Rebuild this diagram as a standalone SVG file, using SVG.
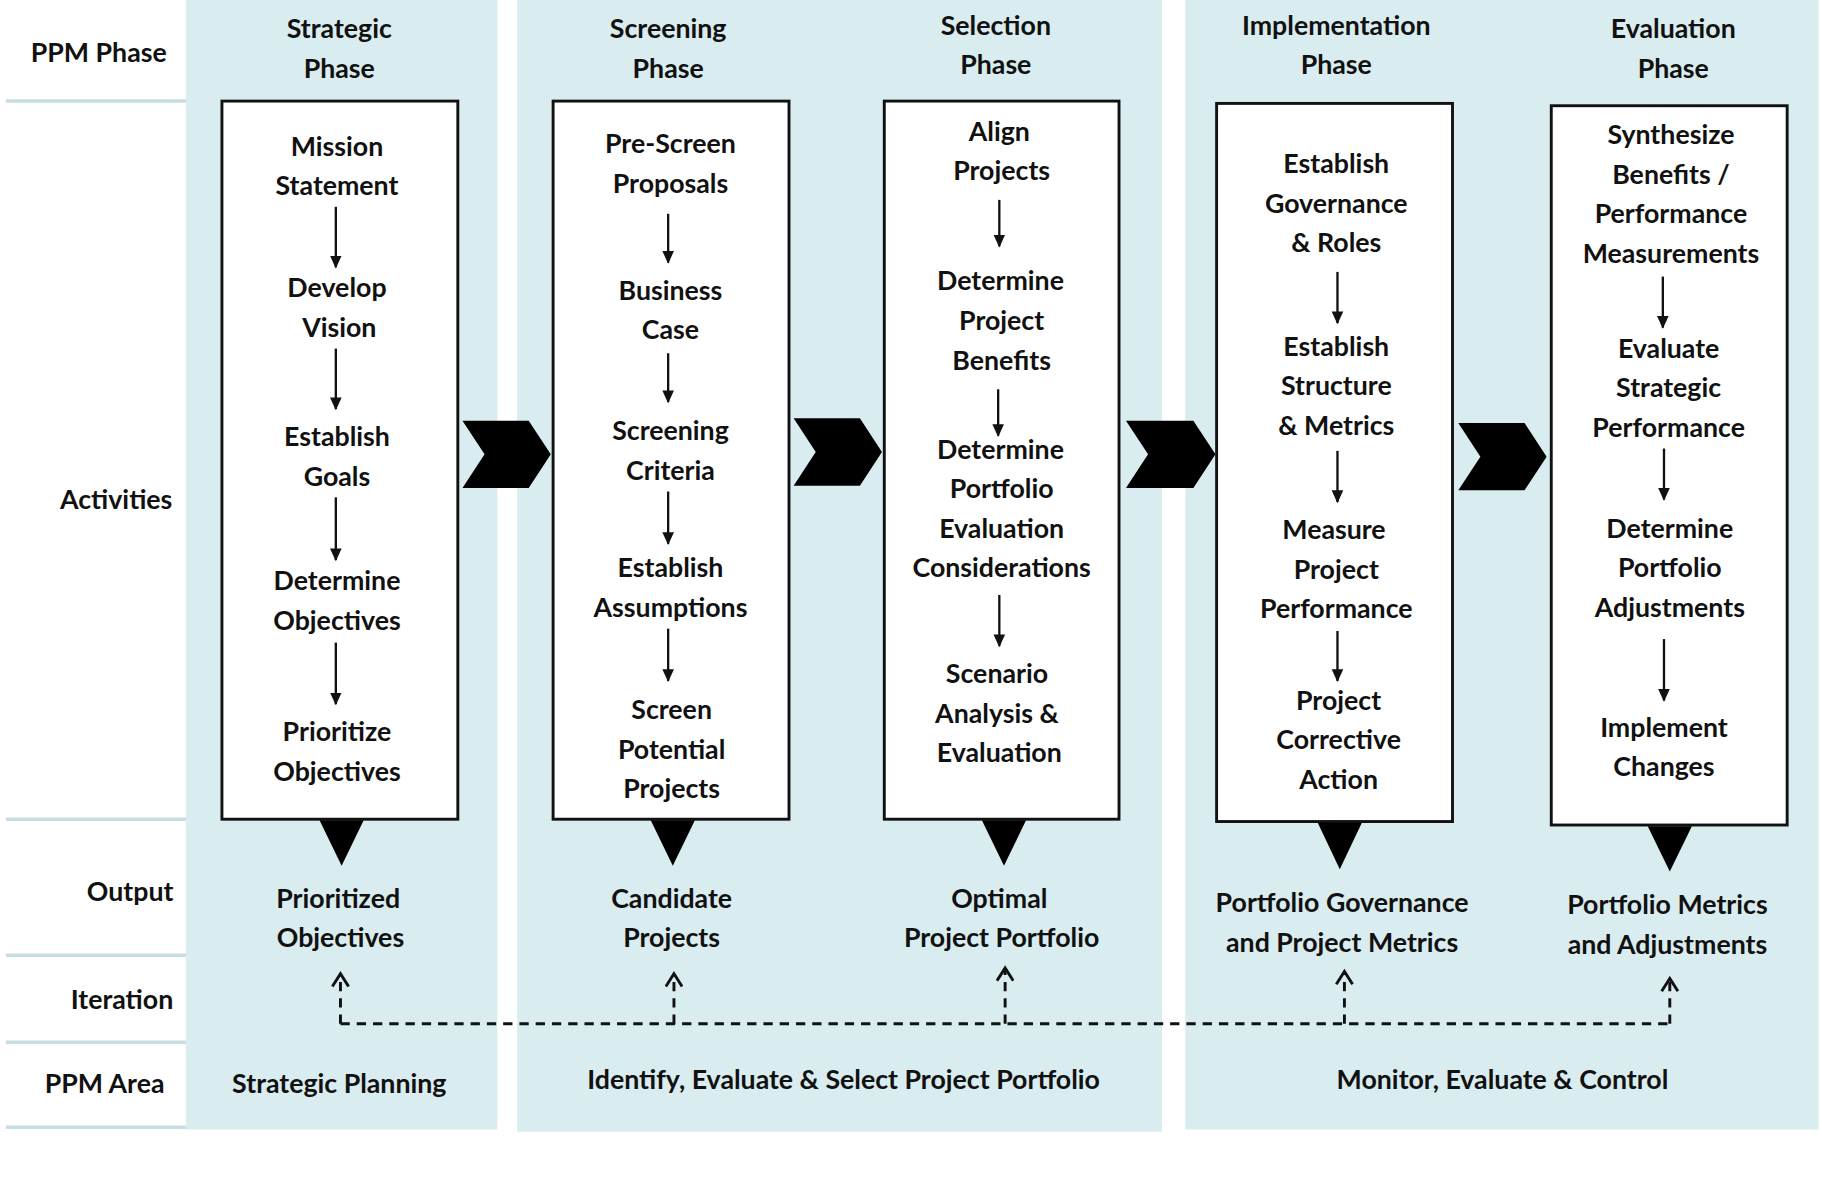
<svg xmlns="http://www.w3.org/2000/svg" width="1822" height="1199" viewBox="0 0 1822 1199">
<style>
text{font-family:Lato,"Open Sans","Liberation Sans",sans-serif;font-weight:bold;font-size:23px;fill:#111;text-anchor:middle}
.panel{fill:#d9ecef}
.sep{stroke:#c8dde2;stroke-width:3}
.box{fill:#fff;stroke:#111;stroke-width:2.5}
.arr{stroke:#111;stroke-width:2;marker-end:url(#ah)}
.dash{stroke:#111;stroke-width:2.5;stroke-dasharray:8 6;fill:none}
.up{stroke:#111;stroke-width:2.5;stroke-dasharray:8 6;marker-end:url(#oh)}
.blk{fill:#000}
</style>
<defs>
<marker id="ah" markerWidth="12" markerHeight="12" refX="10" refY="6" orient="auto" markerUnits="userSpaceOnUse"><path d="M0,1 L11,6 L0,11 Z" fill="#111"/></marker>
<marker id="oh" markerWidth="16" markerHeight="16" refX="13" refY="8" orient="auto" markerUnits="userSpaceOnUse"><path d="M2,1 L13,8 L2,15" fill="none" stroke="#111" stroke-width="2.5"/></marker>
</defs>
<rect width="1822" height="1199" fill="#fff"/>
<g transform="scale(1.162)">
<g id="panels">
<rect class="panel" x="160" y="0" width="268" height="972"/>
<rect class="panel" x="445" y="0" width="555" height="974"/>
<rect class="panel" x="1020" y="0" width="545" height="972"/>
</g>
<g id="rowlabels">
<line class="sep" x1="5" y1="87" x2="160" y2="87"/>
<line class="sep" x1="5" y1="705" x2="160" y2="705"/>
<line class="sep" x1="5" y1="822" x2="160" y2="822"/>
<line class="sep" x1="5" y1="897" x2="160" y2="897"/>
<line class="sep" x1="5" y1="970" x2="160" y2="970"/>
<text x="85" y="53">PPM Phase</text>
<text x="100" y="438">Activities</text>
<text x="112" y="775">Output</text>
<text x="105" y="868">Iteration</text>
<text x="90" y="941">PPM Area</text>
</g>
<g id="phase-titles">
<text x="292" y="33">Strategic</text><text x="292" y="67">Phase</text>
<text x="575" y="33">Screening</text><text x="575" y="67">Phase</text>
<text x="857" y="30">Selection</text><text x="857" y="64">Phase</text>
<text x="1150" y="30">Implementation</text><text x="1150" y="64">Phase</text>
<text x="1440" y="33">Evaluation</text><text x="1440" y="67">Phase</text>
</g>
<g id="strategic">
<rect class="box" x="191" y="87" width="203" height="618"/>
<text x="290" y="134">Mission</text><text x="290" y="168">Statement</text>
<text x="290" y="256">Develop</text><text x="292" y="290">Vision</text>
<text x="290" y="384">Establish</text><text x="290" y="418">Goals</text>
<text x="290" y="508">Determine</text><text x="290" y="542">Objectives</text>
<text x="290" y="638">Prioritize</text><text x="290" y="672">Objectives</text>
</g>
<g id="screening">
<rect class="box" x="476" y="87" width="203" height="618"/>
<text x="577" y="132">Pre-Screen</text><text x="577" y="166">Proposals</text>
<text x="577" y="258">Business</text><text x="577" y="292">Case</text>
<text x="577" y="379">Screening</text><text x="577" y="413">Criteria</text>
<text x="577" y="497">Establish</text><text x="577" y="531">Assumptions</text>
<text x="578" y="619">Screen</text><text x="578" y="653">Potential</text><text x="578" y="687">Projects</text>
</g>
<g id="selection">
<rect class="box" x="761" y="87" width="202" height="618"/>
<text x="860" y="121">Align</text><text x="862" y="155">Projects</text>
<text x="861" y="250">Determine</text><text x="862" y="284">Project</text><text x="862" y="318">Benefits</text>
<text x="861" y="395">Determine</text><text x="862" y="429">Portfolio</text><text x="862" y="463">Evaluation</text><text x="862" y="497">Considerations</text>
<text x="858" y="588">Scenario</text><text x="858" y="622">Analysis &amp;</text><text x="860" y="656">Evaluation</text>
</g>
<g id="implementation">
<rect class="box" x="1047" y="89" width="203" height="618"/>
<text x="1150" y="149">Establish</text><text x="1150" y="183">Governance</text><text x="1150" y="217">&amp; Roles</text>
<text x="1150" y="306">Establish</text><text x="1150" y="340">Structure</text><text x="1150" y="374">&amp; Metrics</text>
<text x="1148" y="464">Measure</text><text x="1150" y="498">Project</text><text x="1150" y="532">Performance</text>
<text x="1152" y="611">Project</text><text x="1152" y="645">Corrective</text><text x="1152" y="679">Action</text>
</g>
<g id="evaluation">
<rect class="box" x="1335" y="91" width="203" height="619"/>
<text x="1438" y="124">Synthesize</text><text x="1438" y="158">Benefits /</text><text x="1438" y="192">Performance</text><text x="1438" y="226">Measurements</text>
<text x="1436" y="308">Evaluate</text><text x="1436" y="342">Strategic</text><text x="1436" y="376">Performance</text>
<text x="1437" y="463">Determine</text><text x="1437" y="497">Portfolio</text><text x="1437" y="531">Adjustments</text>
<text x="1432" y="634">Implement</text><text x="1432" y="668">Changes</text>
</g>
<g id="outputs">
<text x="291" y="781">Prioritized</text><text x="293" y="815">Objectives</text>
<text x="578" y="781">Candidate</text><text x="578" y="815">Projects</text>
<text x="860" y="781">Optimal</text><text x="862" y="815">Project Portfolio</text>
<text x="1155" y="785">Portfolio Governance</text><text x="1155" y="819">and Project Metrics</text>
<text x="1435" y="787">Portfolio Metrics</text><text x="1435" y="821">and Adjustments</text>
</g>
<g id="areas">
<text x="292" y="941">Strategic Planning</text>
<text x="726" y="937">Identify, Evaluate &amp; Select Project Portfolio</text>
<text x="1293" y="937">Monitor, Evaluate &amp; Control</text>
</g>
<g id="connectors">
<line class="arr" x1="289" y1="178" x2="289" y2="230"/>
<line class="arr" x1="289" y1="300" x2="289" y2="352"/>
<line class="arr" x1="289" y1="428" x2="289" y2="482"/>
<line class="arr" x1="289" y1="553" x2="289" y2="606"/>
<line class="arr" x1="575" y1="184" x2="575" y2="226"/>
<line class="arr" x1="575" y1="304" x2="575" y2="346"/>
<line class="arr" x1="575" y1="423" x2="575" y2="468"/>
<line class="arr" x1="575" y1="541" x2="575" y2="586"/>
<line class="arr" x1="860" y1="172" x2="860" y2="212"/>
<line class="arr" x1="859" y1="335" x2="859" y2="375"/>
<line class="arr" x1="860" y1="512" x2="860" y2="556"/>
<line class="arr" x1="1151" y1="234" x2="1151" y2="278"/>
<line class="arr" x1="1151" y1="388" x2="1151" y2="432"/>
<line class="arr" x1="1151" y1="543" x2="1151" y2="586"/>
<line class="arr" x1="1431" y1="238" x2="1431" y2="282"/>
<line class="arr" x1="1432" y1="386" x2="1432" y2="430"/>
<line class="arr" x1="1432" y1="550" x2="1432" y2="603"/>
<g id="chevrons">
<polygon class="blk" points="398,362 455,362 474,391 455,420 398,420 417,391"/>
<polygon class="blk" points="683,360 740,360 759,389 740,418 683,418 702,389"/>
<polygon class="blk" points="969,362 1027,362 1046,391 1027,420 969,420 988,391"/>
<polygon class="blk" points="1255,364 1312,364 1331,393 1312,422 1255,422 1274,393"/>
</g>
<g id="down-triangles">
<polygon class="blk" points="275,706 313,706 294,745"/>
<polygon class="blk" points="560,706 598,706 579,745"/>
<polygon class="blk" points="845,706 883,706 864,745"/>
<polygon class="blk" points="1134,708 1172,708 1153,748"/>
<polygon class="blk" points="1418,711 1456,711 1437,750"/>
</g>
<polyline class="dash" points="293,881 1437,881"/>
<line class="up" x1="293" y1="881" x2="293" y2="838"/>
<line class="up" x1="580" y1="881" x2="580" y2="838"/>
<line class="up" x1="865" y1="881" x2="865" y2="833"/>
<line class="up" x1="1157" y1="881" x2="1157" y2="836"/>
<line class="up" x1="1437" y1="881" x2="1437" y2="842"/>
</g>
</g>
</svg>
